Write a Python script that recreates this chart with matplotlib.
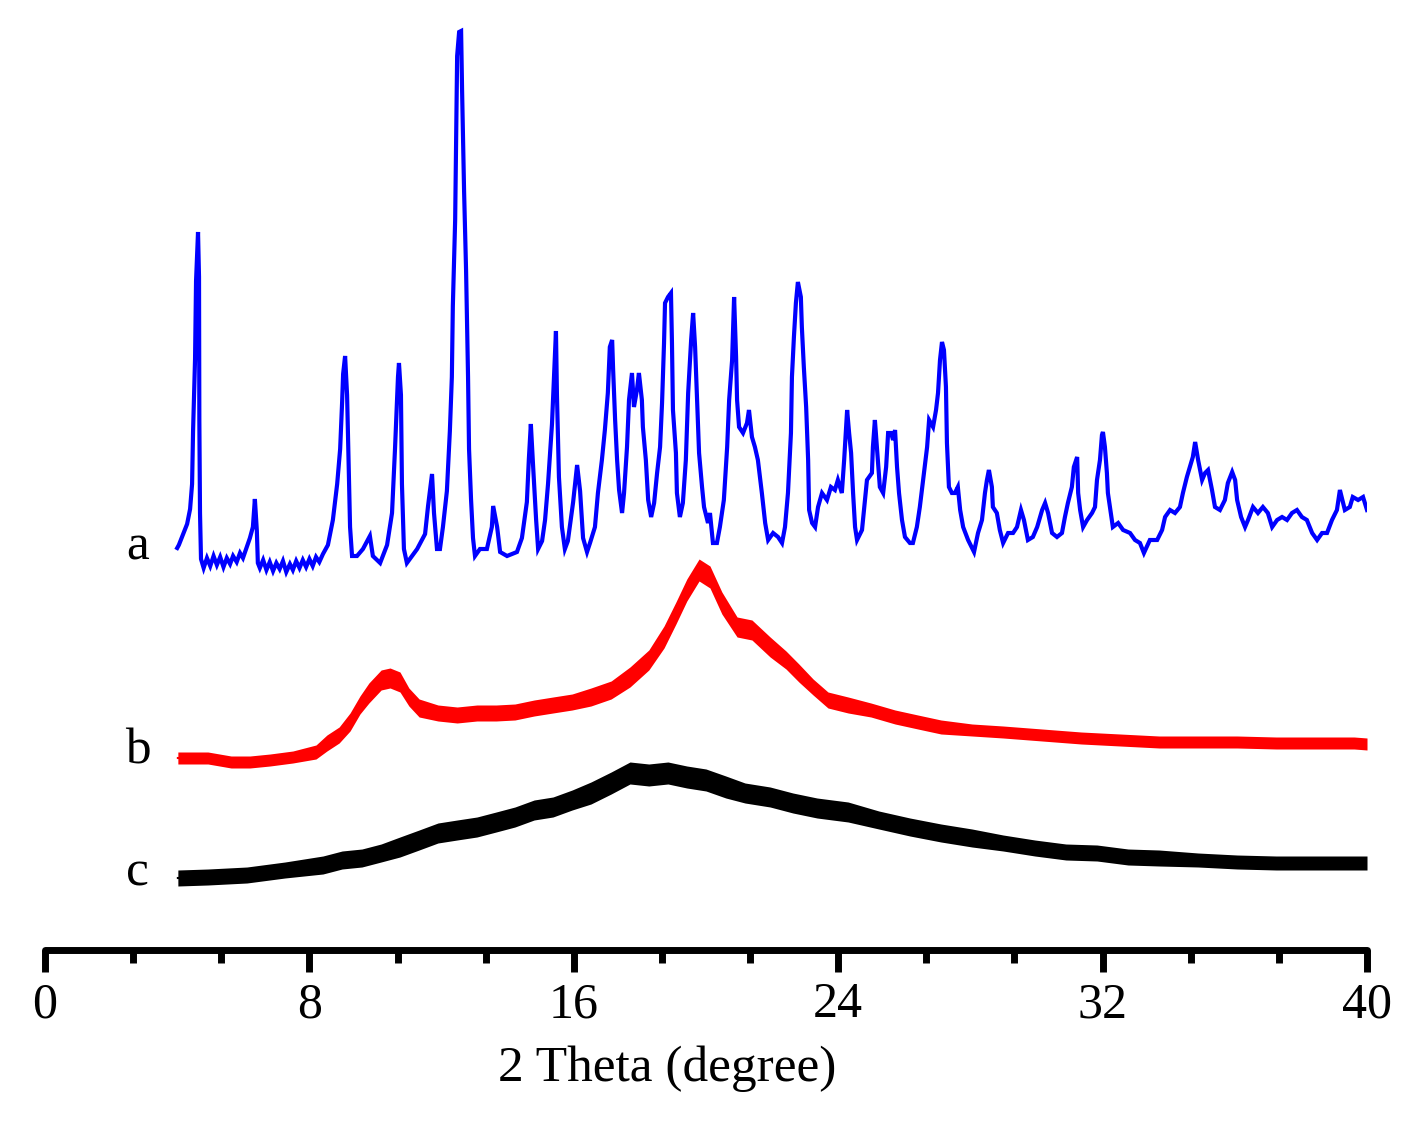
import matplotlib
matplotlib.use("Agg")
import matplotlib.pyplot as plt
from matplotlib.ticker import MultipleLocator

plt.rcParams['font.family'] = ['Liberation Serif', 'DejaVu Serif']

# sample a (crystalline) - 2theta (degree), intensity (a.u.)
theta_a = [4.00, 4.05, 4.18, 4.30, 4.39, 4.45, 4.48, 4.54, 4.57, 4.63, 4.66, 4.67, 4.69, 4.72,
           4.80, 4.90, 5.00, 5.10, 5.20, 5.30, 5.40, 5.50, 5.60, 5.69, 5.80, 5.90, 5.99,
           6.20, 6.29, 6.35, 6.41, 6.44,
           6.50, 6.60, 6.70, 6.80, 6.90, 7.00, 7.10, 7.20, 7.30, 7.41, 7.50, 7.60, 7.70, 7.80,
           7.90, 8.00, 8.10, 8.20, 8.30, 8.41,
           8.56, 8.71, 8.84, 8.93, 8.99, 9.02, 9.08, 9.14, 9.20, 9.23, 9.29, 9.44, 9.62, 9.83,
           9.92, 10.14, 10.35, 10.50, 10.59, 10.68, 10.71, 10.77, 10.80, 10.86, 10.95, 11.26,
           11.50, 11.59, 11.71, 11.77, 11.86, 11.95, 12.04, 12.16, 12.25, 12.31, 12.34, 12.41,
           12.44, 12.47, 12.53, 12.59, 12.62, 12.68, 12.74, 12.80, 12.83, 12.89, 12.95, 13.01,
           13.16, 13.37, 13.52, 13.56, 13.68, 13.77, 13.98, 14.28, 14.43, 14.58, 14.64, 14.70,
           14.77, 14.86, 14.92, 15.04, 15.13, 15.22, 15.34, 15.40, 15.46, 15.49, 15.55, 15.64,
           15.73, 15.82, 15.98, 16.10, 16.19, 16.28, 16.40, 16.49, 16.64, 16.73, 16.85, 16.94,
           17.03, 17.09, 17.16, 17.19, 17.25, 17.31, 17.37, 17.46, 17.52, 17.61, 17.67, 17.76,
           17.82, 17.91, 17.97, 18.06, 18.09, 18.18, 18.25, 18.34, 18.43, 18.52, 18.61, 18.67,
           18.73, 18.76, 18.85, 18.94, 18.97, 19.00, 19.09, 19.12, 19.21, 19.30, 19.39, 19.46,
           19.55, 19.61, 19.67, 19.73, 19.79, 19.88, 19.94, 20.06, 20.12, 20.21, 20.33, 20.42,
           20.54, 20.64, 20.70, 20.79, 20.85, 20.91, 20.94, 21.00, 21.12, 21.24, 21.30, 21.39,
           21.48, 21.57, 21.69, 21.79, 21.88, 22.03, 22.18, 22.30, 22.39, 22.48, 22.57, 22.60,
           22.66, 22.72, 22.78, 22.87, 22.90, 22.96, 23.03, 23.09, 23.12, 23.21, 23.30, 23.39,
           23.51, 23.66, 23.78, 23.90, 23.99, 24.11, 24.18, 24.27, 24.33, 24.39, 24.45, 24.51,
           24.57, 24.72, 24.81, 24.87, 25.02, 25.05, 25.11, 25.17, 25.26, 25.36, 25.45, 25.51,
           25.60, 25.66, 25.72, 25.78, 25.84, 25.93, 26.02, 26.17, 26.26, 26.38, 26.47, 26.57,
           26.69, 26.75, 26.87, 26.96, 27.02, 27.08, 27.14, 27.20, 27.26, 27.29, 27.35, 27.44,
           27.53, 27.62, 27.69, 27.78, 27.93, 28.11, 28.23, 28.35, 28.44, 28.50, 28.56, 28.65,
           28.68, 28.80, 28.89, 28.99, 29.14, 29.29, 29.41, 29.53, 29.62, 29.74, 29.89, 30.02,
           30.17, 30.26, 30.35, 30.47, 30.62, 30.77, 30.86, 30.95, 31.07, 31.13, 31.23, 31.26,
           31.32, 31.41, 31.53, 31.68, 31.77, 31.83, 31.92, 31.98, 32.01, 32.07, 32.13, 32.16,
           32.25, 32.31, 32.47, 32.62, 32.83, 32.98, 33.13, 33.25, 33.43, 33.65, 33.80, 33.89,
           34.04, 34.19, 34.34, 34.43, 34.55, 34.64, 34.73, 34.80, 34.89, 35.01, 35.10, 35.19,
           35.31, 35.40, 35.55, 35.70, 35.79, 35.92, 36.01, 36.07, 36.19, 36.31, 36.40, 36.55,
           36.70, 36.85, 37.00, 37.13, 37.28, 37.43, 37.58, 37.73, 37.88, 38.03, 38.18, 38.34,
           38.49, 38.64, 38.79, 38.94, 39.09, 39.18, 39.33, 39.48, 39.57, 39.73, 39.88, 40.00]
int_a = [32, 35, 46, 56, 71, 96, 149, 221, 299, 348, 303, 160, 67, 21,
         12, 22, 14, 24, 15, 23, 13, 22, 16, 24, 18, 27, 22,
         42, 53, 81, 49, 17,
         12, 20, 10, 18, 9, 17, 11, 19, 8, 16, 10, 19, 12, 20,
         13, 21, 14, 23, 18, 26,
         35, 60, 96, 131, 178, 206, 224, 185, 96, 53, 24, 24, 31, 44,
         24, 17, 35, 67, 131, 203, 217, 185, 96, 31, 17, 31,
         46, 74, 106, 67, 31, 31, 53, 89, 149, 203, 274, 360,
         442, 524, 548, 549, 489, 389, 310, 203, 131, 81, 42, 24,
         31, 31, 53, 74, 53, 28, 24, 28, 42, 78, 121, 156,
         113, 60, 31, 39, 60, 96, 156, 203, 249, 185, 103, 53,
         31, 39, 78, 115, 89, 42, 28, 37, 53, 87, 120, 150,
         187, 233, 240, 210, 160, 120, 90, 67, 87, 133, 180, 207,
         173, 190, 207, 180, 153, 120, 80, 63, 77, 107, 133, 177,
         237, 277, 283, 287, 237, 170, 127, 87, 63, 77, 120, 187,
         240, 267, 233, 180, 127, 93, 73, 57, 67, 37, 37, 53,
         80, 133, 180, 220, 283, 223, 180, 153, 147, 157, 170, 143,
         133, 120, 87, 57, 40, 47, 43, 37, 53, 87, 147, 203,
         243, 277, 298, 283, 253, 213, 173, 120, 70, 57, 53, 73,
         87, 80, 93, 90, 100, 87, 120, 170, 147, 127, 87, 53,
         40, 50, 80, 100, 107, 133, 160, 133, 93, 87, 113, 147,
         147, 140, 150, 113, 87, 60, 43, 37, 37, 53, 73, 100,
         133, 160, 153, 170, 187, 220, 238, 230, 193, 137, 93, 87,
         87, 93, 70, 53, 40, 28, 47, 60, 87, 100, 110, 93,
         73, 67, 50, 37, 47, 47, 53, 70, 60, 40, 43, 53,
         70, 77, 67, 47, 43, 47, 63, 77, 93, 113, 123, 87,
         70, 53, 60, 67, 73, 100, 120, 145, 148, 133, 107, 87,
         67, 53, 57, 50, 47, 40, 37, 27, 40, 40, 50, 63,
         70, 67, 73, 87, 103, 113, 123, 138, 120, 100, 107, 110,
         90, 73, 70, 80, 97, 108, 100, 80, 63, 53, 60, 73,
         67, 73, 67, 53, 60, 63, 60, 67, 70, 63, 60, 47,
         40, 47, 47, 60, 70, 90, 70, 73, 83, 80, 83, 70]

# sample b (amorphous) - centre of the noisy trace and its half spread
theta_b = [4.02, 4.93, 5.63, 6.20, 6.81, 7.50, 8.20, 8.53, 8.90, 9.23, 9.53, 9.80, 10.17,
           10.44, 10.74, 11.01, 11.32, 11.89, 12.47, 13.07, 13.65, 14.22, 14.80, 15.37,
           15.95, 16.52, 17.13, 17.70, 18.27, 18.73, 19.09, 19.42, 19.79, 20.12, 20.48,
           20.94, 21.39, 21.94, 22.42, 22.81, 23.24, 23.69, 24.30, 24.99, 25.72, 26.41,
           27.11, 28.05, 28.99, 30.17, 31.35, 32.53, 33.71, 34.89, 36.07, 37.25, 38.43,
           39.61, 40.00]
int_b = [12, 12, 8, 8, 10, 13, 18, 27, 35, 48, 65, 77, 90,
         92, 88, 73, 62, 57, 55, 57, 57, 58, 62, 65,
         68, 73, 80, 93, 110, 133, 157, 180, 200, 193, 167,
         143, 140, 123, 110, 97, 83, 70, 65, 60, 53, 48,
         43, 40, 38, 35, 32, 30, 28, 28, 28, 27, 27,
         27, 26]
spread_b = [6, 6, 6, 6, 6, 6, 7, 8, 8, 9, 9, 10, 10,
            10, 10, 9, 9, 8, 8, 8, 8, 8, 8, 8,
            8, 9, 9, 10, 10, 11, 11, 11, 11, 11, 11,
            10, 10, 10, 9, 9, 8, 8, 8, 7, 7, 7,
            7, 6, 6, 6, 6, 6, 6, 6, 6, 6, 6,
            6, 6]

# sample c (amorphous)
theta_c = [4.02, 4.93, 6.11, 7.26, 8.41, 8.99, 9.59, 10.17, 10.74, 11.32, 11.89, 12.47,
           13.07, 13.65, 14.22, 14.80, 15.37, 15.95, 16.52, 17.13, 17.70, 18.27, 18.85,
           19.42, 20.00, 20.60, 21.18, 21.94, 22.63, 23.36, 24.30, 25.23, 26.17, 27.11,
           28.05, 28.99, 29.95, 30.89, 31.83, 32.77, 33.71, 34.89, 36.07, 37.25, 38.43,
           39.61, 40.00]
int_c = [12, 13, 15, 20, 25, 30, 32, 37, 43, 50, 57, 60,
         63, 68, 73, 80, 83, 90, 97, 107, 117, 115, 117,
         113, 110, 103, 97, 93, 87, 82, 78, 70, 63, 57,
         52, 47, 42, 38, 37, 33, 32, 30, 28, 27, 27,
         27, 27]
spread_c = [8, 8, 8, 8, 9, 9, 9, 9, 10, 10, 10, 10,
            10, 10, 10, 10, 10, 10, 11, 11, 11, 11, 11,
            11, 11, 11, 10, 10, 10, 10, 10, 9, 9, 9,
            9, 8, 8, 8, 8, 8, 8, 7, 7, 7, 7,
            7, 7]

offsets = {"a": 370, "b": 180, "c": 60}
label_pos = {"a": 391, "b": 187, "c": 65}

fig = plt.figure(figsize=(14.26, 11.21), dpi=100)
ax = fig.add_axes([0.03156, 0.15254, 0.92707, 0.82962])

ya = [v + offsets["a"] for v in int_a]
ax.plot(theta_a, ya, color="#0000ff", lw=3.0, solid_joinstyle="miter")

yb = [v + offsets["b"] for v in int_b]
lo_b = [v - s for v, s in zip(yb, spread_b)]
hi_b = [v + s for v, s in zip(yb, spread_b)]
ax.fill_between(theta_b, lo_b, hi_b, color="#ff0000", lw=0)
ax.plot(theta_b, yb, color="#ff0000", lw=1.5)

yc = [v + offsets["c"] for v in int_c]
lo_c = [v - s for v, s in zip(yc, spread_c)]
hi_c = [v + s for v, s in zip(yc, spread_c)]
ax.fill_between(theta_c, lo_c, hi_c, color="black", lw=0)
ax.plot(theta_c, yc, color="black", lw=1.5)

for key in ["a", "b", "c"]:
    ax.text(2.8, label_pos[key], key, fontsize=37, ha="center", va="baseline")

ax.set_xlim(0, 40)
ax.set_ylim(0, 930)
ax.set_yticks([])
for s in ["top", "right", "left"]:
    ax.spines[s].set_visible(False)
ax.spines["bottom"].set_linewidth(5)
ax.spines["bottom"].set_capstyle("round")
ax.spines["bottom"].set_bounds(0, 40)

ax.xaxis.set_major_locator(MultipleLocator(8))
ax.xaxis.set_minor_locator(MultipleLocator(8 / 3))
ax.tick_params(axis="x", which="major", direction="out", length=16, width=5,
               labelsize=36, pad=7)
ax.tick_params(axis="x", which="minor", direction="out", length=9, width=5)

ax.set_xlabel("2 Theta (degree)", fontsize=37)
ax.xaxis.set_label_coords(0.4705, -0.103)

fig.savefig("out.png", dpi=100)
